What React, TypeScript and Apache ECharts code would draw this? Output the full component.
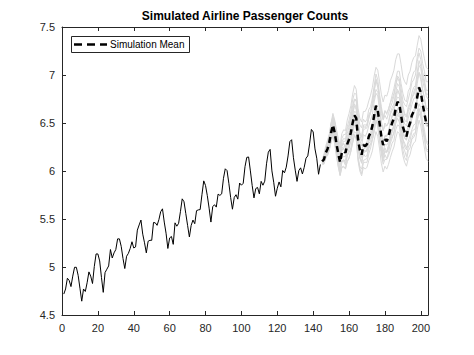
import React, { useEffect, useRef } from "react";
import * as echarts from "echarts";

// Observed log airline passenger counts, months 1..144
const observedLog = [
  4.718, 4.771, 4.883, 4.860, 4.796, 4.905, 4.997, 4.997, 4.913, 4.779, 4.644, 4.771,
  4.745, 4.836, 4.949, 4.905, 4.828, 5.004, 5.136, 5.136, 5.063, 4.890, 4.736, 4.942,
  4.977, 5.011, 5.182, 5.094, 5.147, 5.182, 5.293, 5.293, 5.215, 5.088, 4.984, 5.112,
  5.142, 5.193, 5.263, 5.198, 5.209, 5.384, 5.438, 5.489, 5.342, 5.252, 5.147, 5.268,
  5.278, 5.278, 5.464, 5.460, 5.434, 5.493, 5.576, 5.606, 5.468, 5.352, 5.193, 5.303,
  5.318, 5.236, 5.460, 5.425, 5.455, 5.576, 5.710, 5.680, 5.557, 5.434, 5.313, 5.434,
  5.489, 5.451, 5.587, 5.595, 5.598, 5.753, 5.897, 5.849, 5.743, 5.613, 5.468, 5.628,
  5.649, 5.624, 5.759, 5.746, 5.762, 5.924, 6.023, 6.004, 5.872, 5.724, 5.602, 5.724,
  5.753, 5.707, 5.875, 5.852, 5.872, 6.045, 6.142, 6.146, 6.001, 5.849, 5.720, 5.817,
  5.829, 5.762, 5.892, 5.852, 5.894, 6.075, 6.196, 6.225, 6.001, 5.883, 5.737, 5.820,
  5.886, 5.835, 6.006, 5.981, 6.040, 6.157, 6.306, 6.326, 6.138, 6.009, 5.892, 6.004,
  6.033, 5.969, 6.038, 6.133, 6.157, 6.282, 6.433, 6.407, 6.230, 6.133, 5.966, 6.068,
];

// Simulation mean, months 145..204
const simMean = [
  6.10, 6.12, 6.19, 6.23, 6.30, 6.40, 6.48, 6.40, 6.28, 6.18, 6.09, 6.19,
  6.21, 6.19, 6.28, 6.33, 6.40, 6.50, 6.58, 6.55, 6.33, 6.22, 6.17, 6.27,
  6.26, 6.28, 6.36, 6.40, 6.47, 6.58, 6.68, 6.63, 6.50, 6.36, 6.27, 6.33,
  6.31, 6.36, 6.44, 6.50, 6.55, 6.65, 6.72, 6.70, 6.58, 6.46, 6.40, 6.36,
  6.45, 6.50, 6.58, 6.62, 6.65, 6.77, 6.87, 6.82, 6.70, 6.60, 6.50, 6.48,
];

// Deviations of individual simulated paths from the mean
const simDev1 = [
  0.00, 0.03, 0.05, 0.06, 0.08, 0.10, 0.12, 0.13, 0.15, 0.16, 0.18, 0.20,
  0.22, 0.23, 0.25, 0.27, 0.28, 0.30, 0.31, 0.30, 0.32, 0.33, 0.34, 0.35,
  0.36, 0.38, 0.37, 0.39, 0.40, 0.41, 0.40, 0.42, 0.43, 0.44, 0.45, 0.46,
  0.47, 0.48, 0.50, 0.49, 0.50, 0.51, 0.50, 0.52, 0.53, 0.52, 0.53, 0.54,
  0.55, 0.54, 0.55, 0.56, 0.55, 0.54, 0.54, 0.55, 0.56, 0.57, 0.58, 0.58,
];
const simDev2 = [
  -0.02, -0.04, -0.05, -0.07, -0.08, -0.10, -0.11, -0.12, -0.13, -0.13, -0.14, -0.15,
  -0.16, -0.17, -0.18, -0.19, -0.20, -0.20, -0.21, -0.21, -0.22, -0.22, -0.22, -0.23,
  -0.24, -0.24, -0.25, -0.25, -0.26, -0.26, -0.27, -0.27, -0.27, -0.28, -0.28, -0.28,
  -0.29, -0.29, -0.30, -0.30, -0.30, -0.31, -0.31, -0.31, -0.30, -0.30, -0.31, -0.31,
  -0.32, -0.33, -0.33, -0.33, -0.34, -0.34, -0.34, -0.35, -0.35, -0.36, -0.37, -0.38,
];
const simDev3 = [
  0.02, 0.04, 0.03, 0.05, 0.07, 0.06, 0.08, 0.10, 0.09, 0.11, 0.12, 0.11,
  0.13, 0.14, 0.16, 0.15, 0.17, 0.18, 0.17, 0.19, 0.20, 0.18, 0.19, 0.21,
  0.22, 0.20, 0.19, 0.21, 0.20, 0.18, 0.17, 0.19, 0.18, 0.16, 0.15, 0.17,
  0.16, 0.14, 0.15, 0.13, 0.12, 0.14, 0.13, 0.11, 0.12, 0.10, 0.09, 0.11,
  0.10, 0.12, 0.11, 0.13, 0.12, 0.14, 0.15, 0.13, 0.14, 0.16, 0.15, 0.17,
];
const simDev4 = [
  -0.01, -0.03, -0.02, -0.04, -0.06, -0.05, -0.07, -0.06, -0.08, -0.09, -0.08, -0.10,
  -0.09, -0.11, -0.12, -0.10, -0.09, -0.11, -0.10, -0.08, -0.07, -0.09, -0.08, -0.06,
  -0.05, -0.07, -0.04, -0.03, -0.05, -0.02, -0.01, -0.03, 0.00, 0.02, 0.01, 0.03,
  0.05, 0.04, 0.06, 0.08, 0.07, 0.09, 0.11, 0.10, 0.12, 0.14, 0.13, 0.15,
  0.17, 0.16, 0.18, 0.20, 0.22, 0.21, 0.23, 0.25, 0.24, 0.26, 0.28, 0.27,
];
const simDev5 = [
  0.01, 0.02, 0.04, 0.03, 0.02, 0.04, 0.05, 0.03, 0.04, 0.06, 0.05, 0.07,
  0.08, 0.06, 0.05, 0.07, 0.09, 0.10, 0.12, 0.11, 0.13, 0.15, 0.14, 0.16,
  0.18, 0.17, 0.19, 0.21, 0.23, 0.25, 0.26, 0.24, 0.26, 0.28, 0.27, 0.29,
  0.30, 0.28, 0.27, 0.29, 0.31, 0.30, 0.32, 0.34, 0.33, 0.35, 0.34, 0.36,
  0.38, 0.37, 0.39, 0.41, 0.40, 0.42, 0.41, 0.43, 0.42, 0.44, 0.43, 0.45,
];
const simDev6 = [
  -0.02, -0.01, -0.03, -0.05, -0.04, -0.06, -0.08, -0.09, -0.07, -0.08, -0.10, -0.09,
  -0.11, -0.13, -0.12, -0.14, -0.16, -0.15, -0.17, -0.16, -0.18, -0.17, -0.15, -0.16,
  -0.14, -0.15, -0.13, -0.12, -0.14, -0.16, -0.15, -0.17, -0.19, -0.18, -0.20, -0.21,
  -0.19, -0.20, -0.22, -0.21, -0.23, -0.22, -0.24, -0.23, -0.25, -0.24, -0.26, -0.25,
  -0.24, -0.26, -0.25, -0.27, -0.26, -0.25, -0.27, -0.26, -0.28, -0.27, -0.29, -0.28,
];
const simDev7 = [
  0.00, 0.01, -0.01, 0.01, 0.03, 0.02, 0.04, 0.06, 0.05, 0.04, 0.06, 0.08,
  0.07, 0.05, 0.04, 0.02, 0.03, 0.01, 0.00, 0.02, -0.01, -0.03, -0.02, -0.04,
  -0.06, -0.05, -0.07, -0.09, -0.08, -0.10, -0.09, -0.11, -0.10, -0.12, -0.11, -0.13,
  -0.12, -0.10, -0.11, -0.09, -0.08, -0.06, -0.07, -0.05, -0.06, -0.04, -0.05, -0.03,
  -0.04, -0.02, -0.03, -0.01, 0.00, -0.02, 0.01, 0.02, 0.00, 0.03, 0.02, 0.04,
];
const simDev8 = [
  0.02, 0.05, 0.07, 0.09, 0.08, 0.10, 0.09, 0.11, 0.13, 0.12, 0.14, 0.15,
  0.17, 0.19, 0.18, 0.20, 0.22, 0.24, 0.23, 0.25, 0.27, 0.26, 0.28, 0.27,
  0.25, 0.26, 0.28, 0.27, 0.29, 0.31, 0.33, 0.32, 0.30, 0.31, 0.29, 0.30,
  0.28, 0.29, 0.27, 0.25, 0.26, 0.24, 0.25, 0.23, 0.21, 0.22, 0.20, 0.21,
  0.19, 0.20, 0.18, 0.17, 0.19, 0.18, 0.16, 0.17, 0.15, 0.16, 0.14, 0.15,
];
const simDev9 = [
  -0.01, -0.02, -0.04, -0.03, -0.02, -0.04, -0.03, -0.05, -0.04, -0.02, -0.03, -0.05,
  -0.06, -0.04, -0.05, -0.07, -0.06, -0.08, -0.07, -0.06, -0.04, -0.05, -0.03, -0.04,
  -0.02, -0.03, -0.01, -0.02, -0.04, -0.03, -0.05, -0.07, -0.06, -0.08, -0.10, -0.09,
  -0.11, -0.13, -0.12, -0.14, -0.16, -0.15, -0.17, -0.19, -0.18, -0.20, -0.19, -0.21,
  -0.20, -0.22, -0.24, -0.23, -0.25, -0.24, -0.22, -0.23, -0.21, -0.22, -0.20, -0.21,
];
const simDev10 = [
  0.01, 0.00, 0.02, 0.01, 0.03, 0.05, 0.04, 0.06, 0.05, 0.07, 0.06, 0.05,
  0.04, 0.06, 0.08, 0.07, 0.09, 0.08, 0.10, 0.09, 0.08, 0.10, 0.09, 0.11,
  0.10, 0.12, 0.11, 0.13, 0.12, 0.14, 0.13, 0.15, 0.14, 0.13, 0.15, 0.14,
  0.16, 0.15, 0.17, 0.16, 0.15, 0.17, 0.19, 0.18, 0.17, 0.19, 0.18, 0.20,
  0.22, 0.21, 0.23, 0.25, 0.24, 0.26, 0.28, 0.27, 0.29, 0.31, 0.30, 0.32,
];
const simDev11 = [
  -0.03, -0.05, -0.04, -0.06, -0.08, -0.07, -0.05, -0.04, -0.06, -0.07, -0.09, -0.08,
  -0.10, -0.08, -0.07, -0.05, -0.06, -0.04, -0.03, -0.05, -0.06, -0.08, -0.07, -0.09,
  -0.11, -0.12, -0.10, -0.12, -0.14, -0.13, -0.15, -0.14, -0.16, -0.15, -0.17, -0.16,
  -0.18, -0.17, -0.15, -0.16, -0.14, -0.15, -0.13, -0.14, -0.12, -0.13, -0.11, -0.12,
  -0.14, -0.13, -0.15, -0.14, -0.16, -0.15, -0.17, -0.16, -0.18, -0.17, -0.19, -0.18,
];
const simDev12 = [
  0.01, 0.03, 0.02, 0.04, 0.06, 0.08, 0.07, 0.09, 0.08, 0.10, 0.09, 0.08,
  0.10, 0.12, 0.11, 0.13, 0.15, 0.14, 0.16, 0.18, 0.17, 0.16, 0.18, 0.20,
  0.19, 0.21, 0.23, 0.22, 0.24, 0.26, 0.28, 0.27, 0.25, 0.24, 0.26, 0.25,
  0.23, 0.24, 0.22, 0.21, 0.23, 0.25, 0.27, 0.26, 0.28, 0.27, 0.29, 0.31,
  0.30, 0.32, 0.34, 0.33, 0.35, 0.37, 0.36, 0.34, 0.33, 0.35, 0.34, 0.36,
];
const simDev13 = [
  -0.02, -0.04, -0.06, -0.05, -0.07, -0.09, -0.11, -0.10, -0.12, -0.14, -0.13, -0.15,
  -0.17, -0.16, -0.18, -0.20, -0.19, -0.21, -0.20, -0.22, -0.21, -0.19, -0.20, -0.18,
  -0.17, -0.19, -0.18, -0.16, -0.15, -0.17, -0.16, -0.14, -0.13, -0.15, -0.14, -0.12,
  -0.11, -0.09, -0.10, -0.08, -0.07, -0.09, -0.08, -0.06, -0.05, -0.07, -0.06, -0.04,
  -0.03, -0.05, -0.04, -0.02, -0.01, -0.03, -0.02, 0.00, 0.01, -0.01, 0.00, 0.02,
];
const simDev14 = [
  0.00, -0.02, 0.00, 0.02, 0.01, 0.03, 0.02, 0.00, -0.01, 0.01, 0.00, 0.02,
  0.03, 0.01, 0.02, 0.04, 0.03, 0.05, 0.04, 0.06, 0.05, 0.03, 0.04, 0.02,
  0.01, 0.03, 0.02, 0.00, 0.01, -0.01, 0.00, 0.02, 0.01, 0.03, 0.02, 0.04,
  0.06, 0.05, 0.07, 0.06, 0.08, 0.07, 0.05, 0.06, 0.04, 0.05, 0.03, 0.04,
  0.02, 0.03, 0.01, 0.02, 0.00, 0.01, -0.01, 0.00, -0.02, -0.01, -0.03, -0.02,
];
const simDev15 = [
  -0.01, 0.01, 0.03, 0.05, 0.04, 0.03, 0.05, 0.07, 0.06, 0.05, 0.03, 0.04,
  0.02, 0.00, -0.02, -0.01, -0.03, -0.05, -0.04, -0.06, -0.08, -0.07, -0.09, -0.08,
  -0.06, -0.07, -0.05, -0.06, -0.08, -0.10, -0.09, -0.07, -0.08, -0.06, -0.07, -0.05,
  -0.04, -0.06, -0.05, -0.07, -0.09, -0.08, -0.10, -0.12, -0.11, -0.13, -0.15, -0.14,
  -0.16, -0.18, -0.17, -0.19, -0.21, -0.20, -0.22, -0.24, -0.23, -0.25, -0.27, -0.26,
];
const simDeviations = [
  simDev1, simDev2, simDev3, simDev4, simDev5, simDev6, simDev7, simDev8,
  simDev9, simDev10, simDev11, simDev12, simDev13, simDev14, simDev15,
];

const titleText = "Simulated Airline Passenger Counts";
const legendText = "Simulation Mean";
const firstForecastMonth = 145;

const FONT = "'Liberation Sans', Arial, Helvetica, sans-serif";
const AXIS_COLOR = "#262626";

export default function App() {
  const ref = useRef<HTMLDivElement>(null);

  useEffect(() => {
    if (!ref.current) return;
    const chart = echarts.init(ref.current, null, { renderer: "svg" });

    const observedData = observedLog.map((v, i) => [i + 1, v]);
    const meanData = simMean.map((v, i) => [firstForecastMonth + i, v]);

    const simSeries = simDeviations.map((dev, k) => ({
      type: "line",
      name: "sim" + k,
      data: simMean.map((m, i) => [firstForecastMonth + i, +(m + dev[i]).toFixed(3)]),
      showSymbol: false,
      symbol: "none",
      silent: true,
      lineStyle: { color: "#d9d9d9", width: 1 },
      z: 1,
    }));

    const baseXAxis = {
      type: "value",
      min: 0,
      max: 204,
      interval: 20,
      splitLine: { show: false },
      axisLine: { show: true, onZero: false, lineStyle: { color: AXIS_COLOR, width: 1 } },
      axisTick: { show: true, inside: true, length: 4, lineStyle: { color: AXIS_COLOR } },
    };
    const baseYAxis = {
      type: "value",
      min: 4.5,
      max: 7.5,
      interval: 0.5,
      splitLine: { show: false },
      axisLine: { show: true, onZero: false, lineStyle: { color: AXIS_COLOR, width: 1 } },
      axisTick: { show: true, inside: true, length: 4, lineStyle: { color: AXIS_COLOR } },
    };

    const option: any = {
      animation: false,
      backgroundColor: "#ffffff",
      grid: { left: 62, top: 27, right: 46, bottom: 40, containLabel: false },
      xAxis: [
        {
          ...baseXAxis,
          position: "bottom",
          axisLabel: {
            color: AXIS_COLOR,
            fontSize: 11,
            fontFamily: FONT,
            margin: 7,
            formatter: (v: number) => (v % 20 === 0 ? String(v) : ""),
          },
        },
        { ...baseXAxis, position: "top", axisLabel: { show: false } },
      ],
      yAxis: [
        {
          ...baseYAxis,
          position: "left",
          axisLabel: {
            color: AXIS_COLOR,
            fontSize: 11,
            fontFamily: FONT,
            margin: 7,
            formatter: (v: number) => String(v),
          },
        },
        { ...baseYAxis, position: "right", axisLabel: { show: false } },
      ],
      series: [
        ...simSeries,
        {
          type: "line",
          name: "observed",
          data: observedData,
          showSymbol: false,
          symbol: "none",
          silent: true,
          lineStyle: { color: "#000000", width: 1 },
          z: 2,
        },
        {
          type: "line",
          name: legendText,
          data: meanData,
          showSymbol: false,
          symbol: "none",
          silent: true,
          lineStyle: { color: "#000000", width: 2.5, type: [6, 4] },
          z: 3,
        },
      ],
      graphic: [
        {
          type: "text",
          x: 245,
          y: 16,
          style: {
            text: titleText,
            fill: "#000000",
            font: `bold 12px ${FONT}`,
            align: "center",
            verticalAlign: "middle",
          },
          z: 10,
        },
        {
          type: "rect",
          shape: { x: 71.5, y: 36.5, width: 118, height: 16 },
          style: { fill: "#ffffff", stroke: AXIS_COLOR, lineWidth: 1 },
          z: 10,
        },
        {
          type: "line",
          shape: { x1: 74, y1: 44.5, x2: 107, y2: 44.5 },
          style: { stroke: "#000000", lineWidth: 2.5, lineDash: [8, 5] },
          z: 11,
        },
        {
          type: "text",
          x: 110,
          y: 44.5,
          style: {
            text: legendText,
            fill: "#000000",
            font: `10px ${FONT}`,
            align: "left",
            verticalAlign: "middle",
          },
          z: 11,
        },
      ],
    };

    chart.setOption(option);
    return () => chart.dispose();
  }, []);

  return (
    <div
      ref={ref}
      style={{ position: "absolute", left: 0, top: 0, width: 474, height: 355, background: "#fff" }}
    />
  );
}
